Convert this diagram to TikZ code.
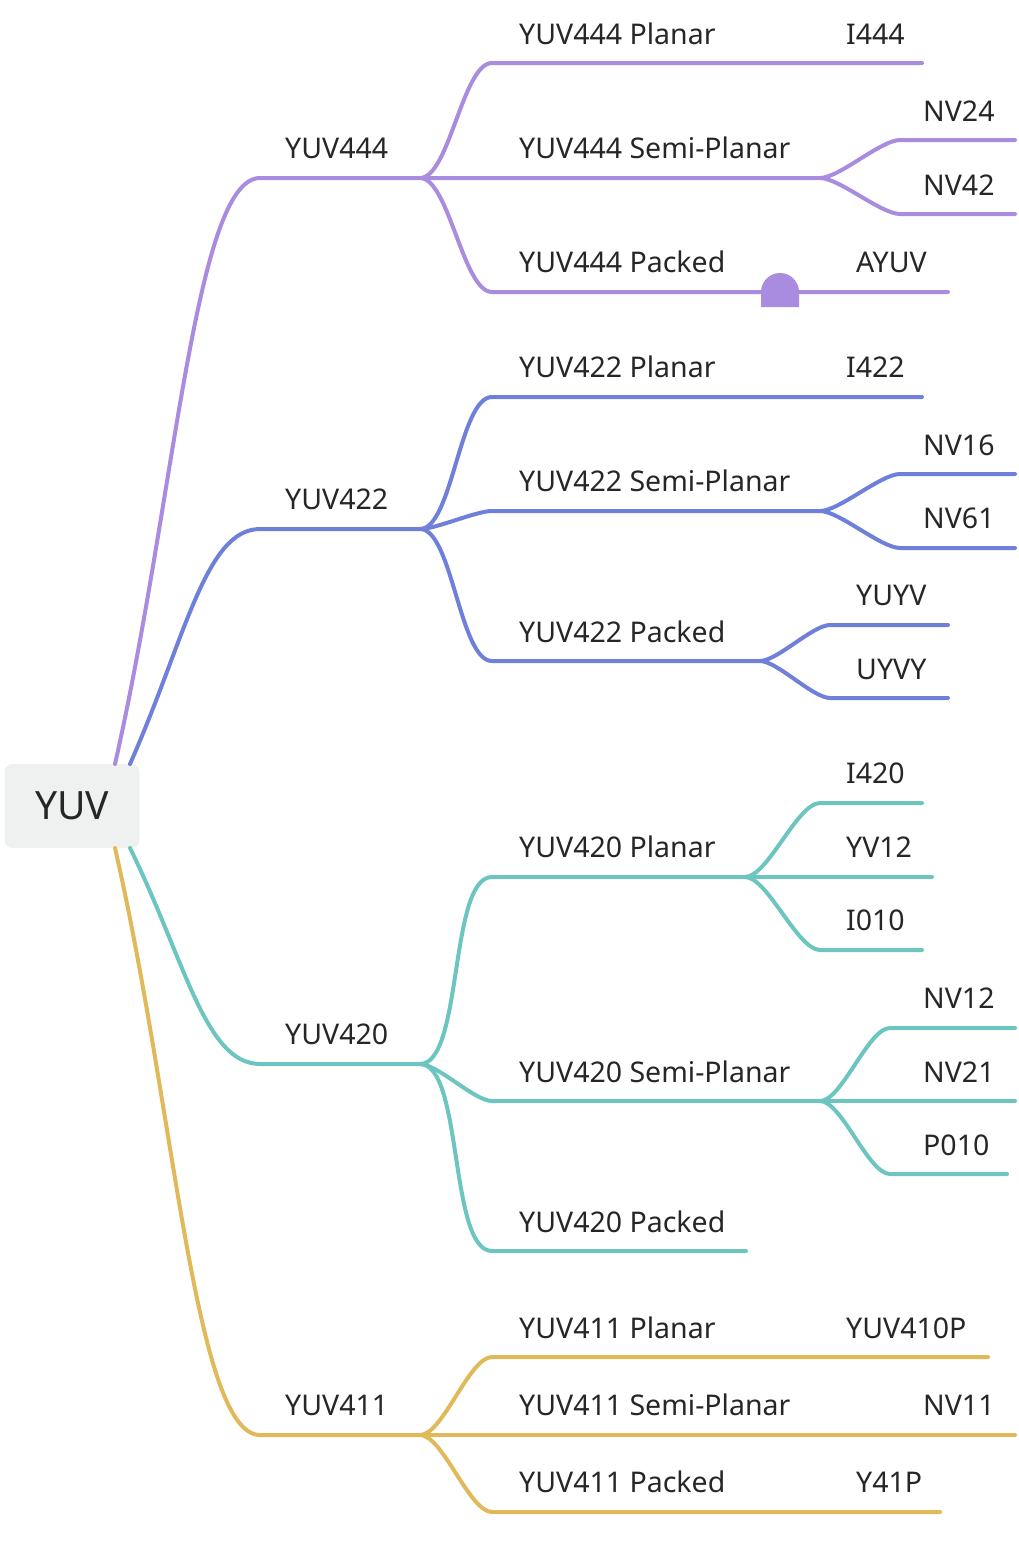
\documentclass[tikz,border=0pt]{standalone}
\usepackage{fontspec}
\setmainfont{Noto Sans}
\definecolor{cP}{HTML}{A98BDF}
\definecolor{cB}{HTML}{6F80DA}
\definecolor{cT}{HTML}{6CC5C0}
\definecolor{cY}{HTML}{E0BA5A}
\definecolor{rootfill}{HTML}{EFF1F0}
\definecolor{txt}{HTML}{262626}
\begin{document}
\begin{tikzpicture}[x=1pt,y=-1pt,
  br/.style={line width=4pt,line cap=round},
  lab/.style={anchor=west,inner sep=0pt,text=txt,font=\fontsize{28.5}{32}\selectfont},
  sg/.style={out=0,in=180,looseness=0.55}]
\useasboundingbox (0,0) rectangle (1018,1558);
\node[fill=rootfill,rounded corners=8pt,minimum width=135pt,minimum height=84pt,text=txt,font=\fontsize{39}{42}\selectfont] (root) at (72,806) {YUV};
% coordinates
\foreach \n/\x/\y in {
 p0/115/764, p1/260/178, p2/420/178, pa/492/63, pae/922/63, pb/820/178, pb1/900/140, pb1e/1015/140, pb2/900/214, pb2e/1015/214, pc/492/292, pce/948/292,
 b0/130/764, b1/260/529, b2/420/529, ba/492/397, bae/922/397, bb0/492/511, bb/820/511, bb1/900/474, bb1e/1015/474, bb2/900/548, bb2e/1015/548, bc/492/661, bcm/760/661, bc1/830/625, bc1e/948/625, bc2/830/698, bc2e/948/698,
 t0/130/848, t1/260/1064, t2/420/1064, ta/492/877, tam/745/877, ta1/820/803, ta1e/922/803, ta2e/932/877, ta3/820/950, ta3e/922/950,
 tb/492/1101, tbm/820/1101, tb1/890/1028, tb1e/1015/1028, tb2e/1015/1101, tb3/890/1174, tb3e/1007/1174, tc/492/1251, tce/746/1251,
 y0/115/848, y1/260/1435, y2/420/1435, ya/492/1357, yae/988/1357, ybe/1015/1435, yc/492/1512, yce/940/1512}
 {\coordinate (\n) at (\x,\y);}
% purple
\begin{scope}[draw=cP,br]
\draw (p0) .. controls (175,500) and (195,178) .. (p1) -- (p2);
\draw (p2) to[sg] (pa) -- (pae);
\draw (p2) -- (pb) to[sg] (pb1) -- (pb1e);
\draw (pb) to[sg] (pb2) -- (pb2e);
\draw (p2) to[sg] (pc) -- (pce);
\end{scope}
\fill[cP] (761,307) -- (761,292) arc[start angle=180,end angle=360,radius=19] -- (799,307) -- cycle;
% blue
\begin{scope}[draw=cB,br]
\draw (b0) .. controls (185,640) and (205,529) .. (b1) -- (b2);
\draw (b2) to[sg] (ba) -- (bae);
\draw (b2) to[sg] (bb0) -- (bb) to[sg] (bb1) -- (bb1e);
\draw (bb) to[sg] (bb2) -- (bb2e);
\draw (b2) to[sg] (bc) -- (bcm) to[sg] (bc1) -- (bc1e);
\draw (bcm) to[sg] (bc2) -- (bc2e);
\end{scope}
% teal
\begin{scope}[draw=cT,br]
\draw (t0) .. controls (185,960) and (205,1064) .. (t1) -- (t2);
\draw (t2) to[sg] (ta) -- (tam) to[sg] (ta1) -- (ta1e);
\draw (tam) -- (ta2e);
\draw (tam) to[sg] (ta3) -- (ta3e);
\draw (t2) to[sg] (tb) -- (tbm) to[sg] (tb1) -- (tb1e);
\draw (tbm) -- (tb2e);
\draw (tbm) to[sg] (tb3) -- (tb3e);
\draw (t2) to[sg] (tc) -- (tce);
\end{scope}
% yellow
\begin{scope}[draw=cY,br]
\draw (y0) .. controls (175,1110) and (195,1435) .. (y1) -- (y2);
\draw (y2) to[sg] (ya) -- (yae);
\draw (y2) -- (ybe);
\draw (y2) to[sg] (yc) -- (yce);
\end{scope}
% labels
\foreach \n/\x/\y/\t in {
 l1/285/148/YUV444, l2/519/34/YUV444 Planar, l3/846/34/I444, l4/519/148/YUV444 Semi-Planar, l5/923/111/NV24, l6/923/185/NV42, l7/519/262/YUV444 Packed, l8/856/262/AYUV,
 l9/285/499/YUV422, l10/519/367/YUV422 Planar, l11/846/367/I422, l12/519/481/YUV422 Semi-Planar, l13/923/445/NV16, l14/923/518/NV61, l15/519/632/YUV422 Packed, l16/856/595/YUYV, l17/856/669/UYVY,
 l18/285/1034/YUV420, l19/519/847/YUV420 Planar, l20/846/773/I420, l21/846/847/YV12, l22/846/920/I010, l23/519/1072/YUV420 Semi-Planar, l24/923/998/NV12, l25/923/1072/NV21, l26/923/1145/P010, l27/519/1222/YUV420 Packed,
 l28/285/1405/YUV411, l29/519/1328/YUV411 Planar, l30/846/1328/YUV410P, l31/519/1405/YUV411 Semi-Planar, l32/923/1405/NV11, l33/519/1482/YUV411 Packed, l34/856/1482/Y41P}
 {\node[lab] (\n) at (\x,\y) {\t};}
\end{tikzpicture}
\end{document}
